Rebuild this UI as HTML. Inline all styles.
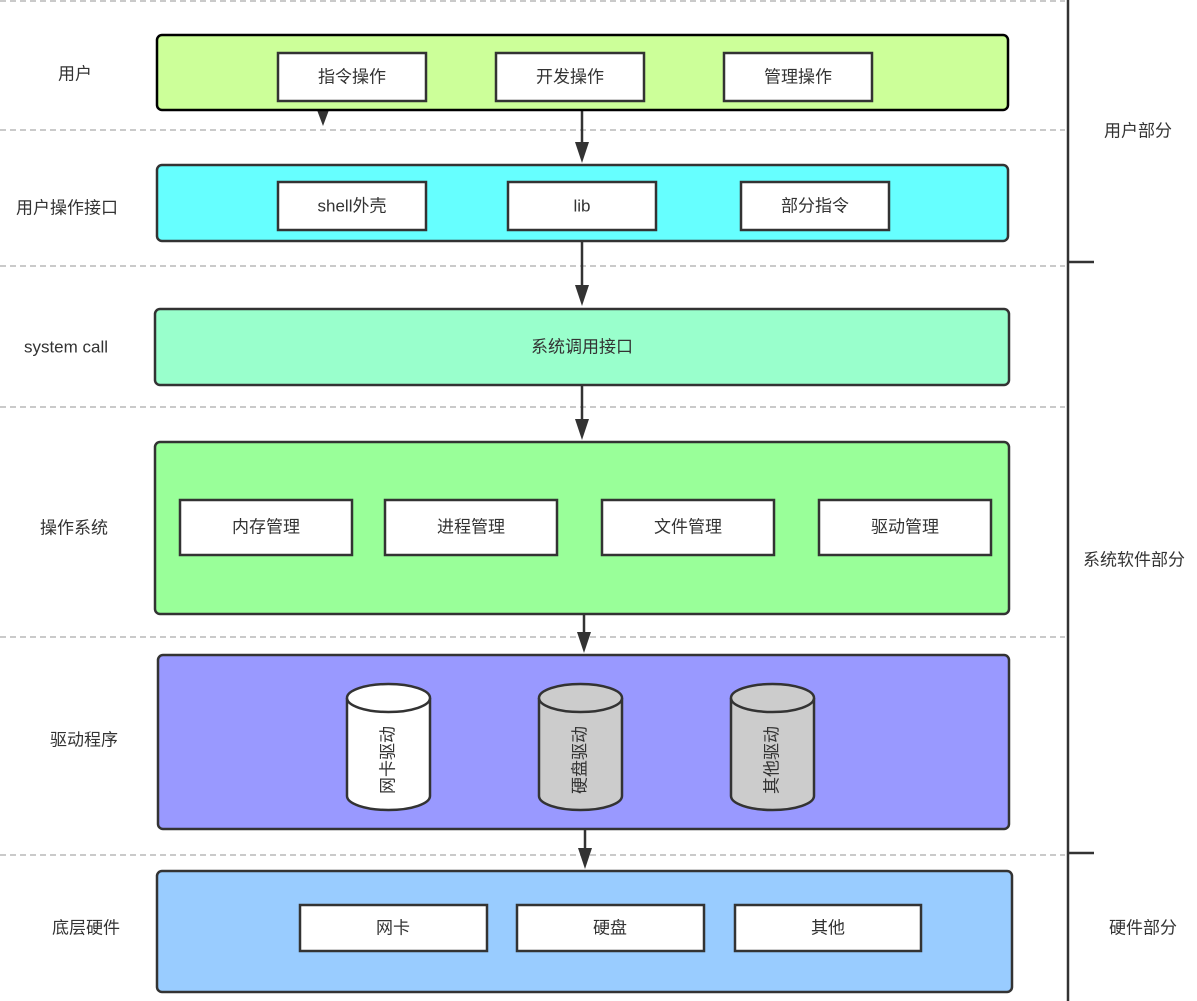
<!DOCTYPE html>
<html><head><meta charset="utf-8"><style>
html,body{margin:0;padding:0;background:#fff;}
svg{display:block;}
text{font-family:"Liberation Sans","Noto Sans CJK SC",sans-serif;font-size:17px;fill:#333;}
</style></head><body>
<svg width="1197" height="1001" viewBox="0 0 1197 1001" xmlns="http://www.w3.org/2000/svg">
<defs>
<marker id="ah" markerWidth="10" markerHeight="10" refX="5" refY="9" orient="auto" markerUnits="userSpaceOnUse">
</marker>
</defs>
<g stroke="#aaa" stroke-width="1.2" stroke-dasharray="6,4">
<line x1="0" y1="1" x2="1065" y2="1"/>
<line x1="0" y1="130" x2="1065" y2="130"/>
<line x1="0" y1="266" x2="1065" y2="266"/>
<line x1="0" y1="407" x2="1065" y2="407"/>
<line x1="0" y1="637" x2="1065" y2="637"/>
<line x1="0" y1="855" x2="1065" y2="855"/>
</g>
<g stroke="#333" stroke-width="2.5">
<line x1="1068" y1="0" x2="1068" y2="1001"/>
<line x1="1068" y1="262" x2="1094" y2="262"/>
<line x1="1068" y1="853" x2="1094" y2="853"/>
</g>
<!-- arrows -->
<g stroke="#333" stroke-width="2.5" fill="#333">
<line x1="582" y1="110" x2="582" y2="150"/><polygon stroke="none" points="575,142 589,142 582,163"/>
<polygon stroke="none" points="317,110 329,110 323,126"/>
<line x1="582" y1="241" x2="582" y2="292"/><polygon stroke="none" points="575,285 589,285 582,306"/>
<line x1="582" y1="385" x2="582" y2="426"/><polygon stroke="none" points="575,419 589,419 582,440"/>
<line x1="584" y1="614" x2="584" y2="640"/><polygon stroke="none" points="577,632 591,632 584,653"/>
<line x1="585" y1="829" x2="585" y2="856"/><polygon stroke="none" points="578,848 592,848 585,869"/>
</g>
<!-- boxes -->
<rect x="157" y="35" width="851" height="75" rx="5" fill="#ccff99" stroke="#000" stroke-width="2.5"/>
<rect x="157" y="165" width="851" height="76" rx="5" fill="#66ffff" stroke="#333" stroke-width="2.5"/>
<rect x="155" y="309" width="854" height="76" rx="5" fill="#99ffcc" stroke="#333" stroke-width="2.5"/>
<rect x="155" y="442" width="854" height="172" rx="5" fill="#99ff99" stroke="#333" stroke-width="2.5"/>
<rect x="158" y="655" width="851" height="174" rx="5" fill="#9999ff" stroke="#333" stroke-width="2.5"/>
<rect x="157" y="871" width="855" height="121" rx="5" fill="#99ccff" stroke="#333" stroke-width="2.5"/>
<g fill="#fff" stroke="#333" stroke-width="2.5">
<rect x="278" y="53" width="148" height="48"/><rect x="496" y="53" width="148" height="48"/><rect x="724" y="53" width="148" height="48"/>
<rect x="278" y="182" width="148" height="48"/><rect x="508" y="182" width="148" height="48"/><rect x="741" y="182" width="148" height="48"/>
<rect x="180" y="500" width="172" height="55"/><rect x="385" y="500" width="172" height="55"/><rect x="602" y="500" width="172" height="55"/><rect x="819" y="500" width="172" height="55"/>
<rect x="300" y="905" width="187" height="46"/><rect x="517" y="905" width="187" height="46"/><rect x="735" y="905" width="186" height="46"/>
</g>
<!-- cylinders -->
<g stroke="#333" stroke-width="2.5">
<path d="M347,698 L347,796 A41.5,14 0 0 0 430,796 L430,698" fill="#fff"/>
<ellipse cx="388.5" cy="698" rx="41.5" ry="14" fill="#fff"/>
<path d="M539,698 L539,796 A41.5,14 0 0 0 622,796 L622,698" fill="#ccc"/>
<ellipse cx="580.5" cy="698" rx="41.5" ry="14" fill="#ccc"/>
<path d="M731,698 L731,796 A41.5,14 0 0 0 814,796 L814,698" fill="#ccc"/>
<ellipse cx="772.5" cy="698" rx="41.5" ry="14" fill="#ccc"/>
</g>
<g text-anchor="middle" dominant-baseline="central">
<text transform="translate(388,760) rotate(-90)">网卡驱动</text>
<text transform="translate(580,760) rotate(-90)">硬盘驱动</text>
<text transform="translate(772,760) rotate(-90)">其他驱动</text>
<text x="352" y="77">指令操作</text><text x="570" y="77">开发操作</text><text x="798" y="77">管理操作</text>
<text x="352" y="206">shell外壳</text><text x="582" y="206">lib</text><text x="815" y="206">部分指令</text>
<text x="582" y="347">系统调用接口</text>
<text x="266" y="527">内存管理</text><text x="471" y="527">进程管理</text><text x="688" y="527">文件管理</text><text x="905" y="527">驱动管理</text>
<text x="393" y="928">网卡</text><text x="610" y="928">硬盘</text><text x="828" y="928">其他</text>
<text x="75" y="74">用户</text>
<text x="67" y="208">用户操作接口</text>
<text x="66" y="347">system call</text>
<text x="74" y="528">操作系统</text>
<text x="84" y="740">驱动程序</text>
<text x="86" y="928">底层硬件</text>
<text x="1138" y="131">用户部分</text>
<text x="1143" y="928">硬件部分</text>
</g>
<text x="1083" y="560" dominant-baseline="central">系统软件部分</text>
</svg>
</body></html>
